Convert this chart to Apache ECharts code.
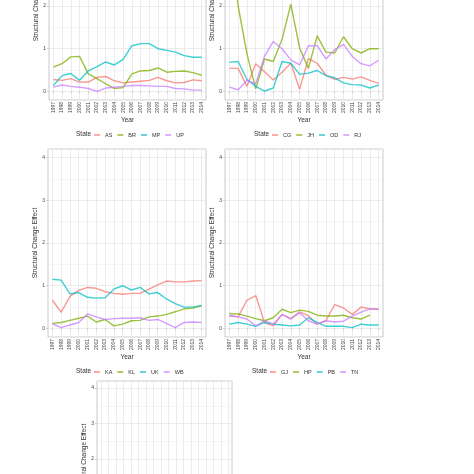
<!DOCTYPE html>
<html>
<head>
<meta charset="utf-8">
<script src="https://cdn.jsdelivr.net/npm/echarts@6/dist/echarts.min.js"></script>
<style>
html, body { margin: 0; padding: 0; background: #fff; }
#chart { width: 474px; height: 474px; }
</style>
</head>
<body>
<div id="chart"></div>
<script>
var years = ['1997','1998','1999','2000','2001','2002','2003','2004','2005',
             '2006','2007','2008','2009','2010','2011','2012','2013','2014'];

// panel 1
var AS = [0.28,0.26,0.30,0.22,0.22,0.33,0.35,0.25,0.20,0.22,0.24,0.26,0.33,0.25,0.20,0.21,0.27,0.25];
var BR = [0.57,0.65,0.81,0.82,0.41,0.30,0.18,0.07,0.09,0.41,0.48,0.49,0.55,0.45,0.47,0.48,0.44,0.38];
var MP = [0.14,0.37,0.42,0.26,0.48,0.58,0.69,0.62,0.75,1.07,1.12,1.12,1.00,0.96,0.92,0.84,0.80,0.80];
var UP = [0.10,0.15,0.12,0.10,0.07,0.00,0.08,0.10,0.12,0.14,0.14,0.13,0.12,0.12,0.07,0.06,0.03,0.03];

// panel 2
var CG = [0.54,0.54,0.12,0.65,0.46,0.27,0.45,0.66,0.05,0.77,0.66,0.38,0.28,0.33,0.29,0.34,0.26,0.19];
var JH = [3.60,2.00,0.88,0.06,0.76,0.70,1.22,2.04,1.02,0.54,1.30,0.92,0.90,1.28,1.00,0.90,1.00,1.00];
var OD = [0.68,0.70,0.28,0.12,0.01,0.08,0.70,0.66,0.40,0.43,0.49,0.37,0.32,0.20,0.16,0.15,0.08,0.15];
var RJ = [0.10,0.04,0.26,0.18,0.82,1.17,1.00,0.74,0.62,1.07,1.07,0.76,0.98,1.10,0.82,0.65,0.60,0.73];

// panel 3
var KA = [0.66,0.38,0.75,0.89,0.96,0.94,0.86,0.82,0.80,0.82,0.82,0.92,1.02,1.11,1.09,1.09,1.11,1.12];
var KL = [0.12,0.14,0.19,0.24,0.29,0.15,0.21,0.06,0.10,0.18,0.19,0.27,0.29,0.33,0.39,0.46,0.48,0.53];
var UK = [1.15,1.13,0.81,0.84,0.73,0.71,0.72,0.92,1.00,0.90,0.96,0.81,0.84,0.69,0.58,0.50,0.50,0.54];
var WB = [0.11,0.02,0.08,0.14,0.34,0.27,0.21,0.23,0.24,0.24,0.25,0.19,0.21,0.12,0.02,0.14,0.15,0.14];

// panel 4
var GJ = [0.29,0.27,0.66,0.77,0.14,0.06,0.33,0.23,0.39,0.30,0.10,0.18,0.56,0.48,0.33,0.50,0.46,0.45];
var HP = [0.35,0.34,0.29,0.23,0.18,0.25,0.45,0.37,0.43,0.40,0.31,0.29,0.29,0.31,0.25,0.22,0.31,null];
var PB = [0.10,0.14,0.10,0.05,0.14,0.10,0.08,0.06,0.08,0.25,0.14,0.05,0.05,0.05,0.02,0.10,0.08,0.08];
var TN = [0.31,0.27,0.22,0.06,0.18,0.10,0.33,0.22,0.37,0.18,0.10,0.18,0.15,0.17,0.29,0.38,0.46,0.45];

var yTicks = [0, 1, 2, 3, 4];

var stateData = {
  AS: AS, BR: BR, MP: MP, UP: UP,
  CG: CG, JH: JH, OD: OD, RJ: RJ,
  KA: KA, KL: KL, UK: UK, WB: WB,
  GJ: GJ, HP: HP, PB: PB, TN: TN
};

var hue = ['#F8766D', '#7CAE00', '#00BFC4', '#C77CFF'];

// layout of the five facets (the top two are cut by the picture edge)
var panels = [
  { left: 49,  top: -88, width: 157, height: 188, states: ['AS','BR','MP','UP'], legX: 94,  legY: 132 },
  { left: 225, top: -88, width: 158, height: 188, states: ['CG','JH','OD','RJ'], legX: 272, legY: 132 },
  { left: 48,  top: 149, width: 158, height: 188, states: ['KA','KL','UK','WB'], legX: 94,  legY: 369 },
  { left: 225, top: 149, width: 158, height: 188, states: ['GJ','HP','PB','TN'], legX: 270, legY: 369 },
  { left: 97,  top: 381, width: 135, height: 156, states: [] }
];

var yMin = yTicks[0] - 0.2, yMax = yTicks[yTicks.length - 1] + 0.2;

var grids = [], xAxes = [], yAxes = [], series = [], legends = [], titles = [];

for (var p = 0; p < panels.length; p++) {
  var pn = panels[p];
  grids.push({
    left: pn.left, top: pn.top, width: pn.width, height: pn.height,
    show: true, borderColor: '#bdbdbd', borderWidth: 0.8, backgroundColor: '#fff',
    outerBoundsMode: 'none', containLabel: false
  });

  xAxes.push({
    type: 'category', gridIndex: p, data: years, boundaryGap: true,
    axisLine: { show: false },
    axisTick: { show: true, alignWithLabel: true, interval: 0, length: 2, lineStyle: { color: '#b5b5b5', width: 0.6 } },
    axisLabel: { rotate: 90, interval: 0, fontSize: 5, color: '#444', margin: 2, fontFamily: 'Liberation Sans' },
    splitLine: { show: true, alignWithLabel: true, interval: 0, lineStyle: { color: '#e4e4e4', width: 0.7 } },
    name: 'Year', nameLocation: 'middle', nameGap: 14,
    nameTextStyle: { fontSize: 6.5, color: '#333', fontFamily: 'Liberation Sans' }
  });

  // major axis with labels
  yAxes.push({
    type: 'value', gridIndex: p, min: yMin, max: yMax, splitNumber: 5,
    axisLine: { show: false },
    axisTick: { show: true, length: 2, lineStyle: { color: '#b5b5b5', width: 0.6 } },
    axisLabel: { fontSize: 5, color: '#444', margin: 3, showMinLabel: false, showMaxLabel: false, fontFamily: 'Liberation Sans' },
    splitLine: { lineStyle: { color: '#e4e4e4', width: 0.7 } },
    name: 'Structural Change Effect', nameLocation: 'middle', nameRotate: 90, nameGap: 7,
    nameTextStyle: { fontSize: 6.5, color: '#333', fontFamily: 'Liberation Sans' }
  });
  // minor grid lines (half steps)
  yAxes.push({
    type: 'value', gridIndex: p, min: yMin - 0.5, max: yMax - 0.5, splitNumber: 5,
    axisLine: { show: false }, axisTick: { show: false }, axisLabel: { show: false },
    splitLine: { lineStyle: { color: '#efefef', width: 0.5 } }
  });

  for (var s = 0; s < pn.states.length; s++) {
    var name = pn.states[s];
    series.push({
      name: name, type: 'line', xAxisIndex: p, yAxisIndex: p * 2,
      data: stateData[name], showSymbol: false, symbol: 'none',
      lineStyle: { width: 1.4, color: hue[s], opacity: 0.75 },
      itemStyle: { color: hue[s] },
      clip: true, silent: true
    });
  }

  if (pn.states.length) {
    legends.push({
      data: pn.states, left: pn.legX, top: pn.legY, padding: 0,
      icon: 'rect', itemWidth: 6, itemHeight: 1.2, itemGap: 5,
      textStyle: { fontSize: 5.5, color: '#333', fontFamily: 'Liberation Sans' }
    });
    titles.push({
      text: 'State', left: pn.legX - 18, top: pn.legY - 1, padding: 0,
      textStyle: { fontSize: 6.5, fontWeight: 'normal', color: '#333', fontFamily: 'Liberation Sans' }
    });
  }
}

var myChart = echarts.init(document.getElementById('chart'));
myChart.setOption({
  animation: false,
  backgroundColor: '#fff',
  title: titles,
  legend: legends,
  grid: grids,
  xAxis: xAxes,
  yAxis: yAxes,
  series: series
});
</script>
</body>
</html>
